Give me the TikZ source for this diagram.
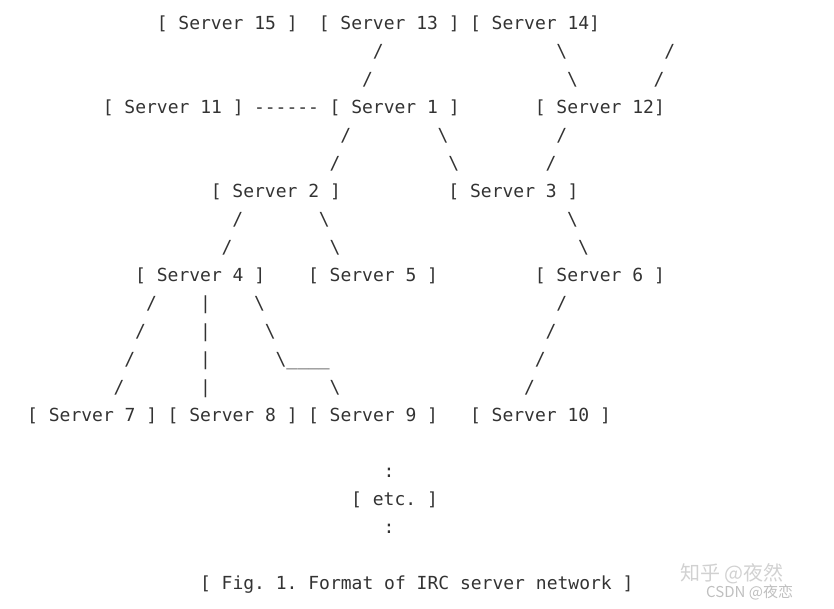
\documentclass[tikz,border=0pt]{standalone}
\usepackage{fontspec}
\setmonofont{DejaVu Sans Mono}
\newfontfamily\cjk{Noto Sans CJK SC}
\tikzset{ascii/.style={anchor=west,inner sep=0pt,text height=13pt,text depth=4pt,
  font=\fontsize{18pt}{20pt}\selectfont\ttfamily,text=black!80}}
\newcommand{\T}[4]{\node[ascii] (#1) at ({27+10.8*#3},{25+28*#2}) {#4};}
\newcommand{\bs}{\textbackslash}
\begin{document}
\begin{tikzpicture}[x=1pt,y=-1pt]
\useasboundingbox (0,0) rectangle (834,608);
\T{s15}{0}{12}{[ Server 15 ]}
\T{s13}{0}{27}{[ Server 13 ]}
\T{s14}{0}{41}{[ Server 14]}
\T{a1}{1}{32}{/}\T{a2}{1}{49}{\bs}\T{a3}{1}{59}{/}
\T{b1}{2}{31}{/}\T{b2}{2}{50}{\bs}\T{b3}{2}{58}{/}
\T{s11}{3}{7}{[ Server 11 ]}
\T{dash}{3}{21}{------}
\T{s1}{3}{28}{[ Server 1 ]}
\T{s12}{3}{47}{[ Server 12]}
\T{c1}{4}{29}{/}\T{c2}{4}{38}{\bs}\T{c3}{4}{49}{/}
\T{d1}{5}{28}{/}\T{d2}{5}{39}{\bs}\T{d3}{5}{48}{/}
\T{s2}{6}{17}{[ Server 2 ]}
\T{s3}{6}{39}{[ Server 3 ]}
\T{e1}{7}{19}{/}\T{e2}{7}{27}{\bs}\T{e3}{7}{50}{\bs}
\T{f1}{8}{18}{/}\T{f2}{8}{28}{\bs}\T{f3}{8}{51}{\bs}
\T{s4}{9}{10}{[ Server 4 ]}
\T{s5}{9}{26}{[ Server 5 ]}
\T{s6}{9}{47}{[ Server 6 ]}
\T{g1}{10}{11}{/}\T{g2}{10}{16}{|}\T{g3}{10}{21}{\bs}\T{g4}{10}{49}{/}
\T{h1}{11}{10}{/}\T{h2}{11}{16}{|}\T{h3}{11}{22}{\bs}\T{h4}{11}{48}{/}
\T{i1}{12}{9}{/}\T{i2}{12}{16}{|}\T{i3}{12}{23}{\bs\_\_\_\_}\T{i4}{12}{47}{/}
\T{j1}{13}{8}{/}\T{j2}{13}{16}{|}\T{j3}{13}{28}{\bs}\T{j4}{13}{46}{/}
\T{s7}{14}{0}{[ Server 7 ]}
\T{s8}{14}{13}{[ Server 8 ]}
\T{s9}{14}{26}{[ Server 9 ]}
\T{s10}{14}{41}{[ Server 10 ]}
\T{k1}{16}{33}{:}
\T{etc}{17}{30}{[ etc. ]}
\T{k2}{18}{33}{:}
\T{fig}{20}{16}{[ Fig. 1. Format of IRC server network ]}
\node[anchor=west,inner sep=0pt,text=black!18,font=\cjk\fontsize{20pt}{22pt}\selectfont] (wm1) at (680,574) {知乎 @夜然};
\node[anchor=west,inner sep=0pt,text=black!25,font=\cjk\fontsize{15pt}{17pt}\selectfont] (wm2) at (706,592) {CSDN @夜恋};
\end{tikzpicture}
\end{document}
